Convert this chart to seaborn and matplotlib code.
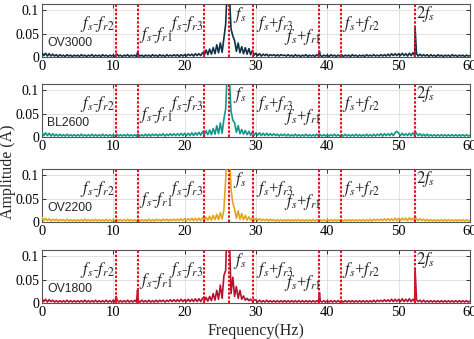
import numpy as np
import pandas as pd
import matplotlib
matplotlib.use("Agg")
import matplotlib.pyplot as plt
import seaborn as sns

# ---- characteristic frequencies (Hz) ----
fs = 26.15
fr1 = 12.75
fr2 = 15.75
fr3 = 3.45

marker_freqs = [fs - fr2, fs - fr1, fs - fr3, fs, fs + fr3, fs + fr1, fs + fr2, 2 * fs]

# ---- spectra: amplitude in mA on a 0.25 Hz grid from 0 to 60 Hz ----
freq_step = 0.25

ov3000 = [
    9, 3, 8, 2, 7, 2, 6, 2, 5, 1, 5, 2, 4, 1, 5, 2, 4, 1, 4, 2,
    4, 1, 5, 2, 4, 1, 4, 2, 5, 1, 4, 2, 4, 1, 5, 2, 4, 1, 4, 2,
    4, 1, 6, 2, 4, 1, 4, 2, 5, 1, 4, 2, 4, 1, 5, 2, 4, 1, 4, 2,
    4, 1, 5, 2, 4, 1, 5, 2, 4, 1, 5, 2, 4, 2, 5, 2, 5, 1, 5, 2,
    5, 2, 6, 3, 6, 2, 7, 3, 7, 3, 9, 4, 15, 5, 17, 6, 20, 7, 26, 9,
    30, 10, 40, 70, 160, 140, 60, 45, 35, 12, 30, 9, 22, 7, 20, 6, 18, 5, 14, 4,
    8, 3, 7, 2, 6, 3, 6, 2, 5, 3, 5, 2, 5, 2, 5, 3, 4, 2, 5, 2,
    4, 1, 5, 2, 4, 1, 4, 2, 5, 1, 4, 2, 4, 1, 5, 2, 4, 1, 4, 2,
    4, 1, 5, 2, 4, 1, 4, 2, 5, 1, 4, 2, 4, 1, 5, 2, 4, 1, 4, 2,
    4, 1, 5, 2, 4, 2, 5, 2, 4, 2, 5, 2, 5, 2, 6, 2, 7, 3, 7, 3,
    7, 3, 8, 3, 7, 2, 8, 3, 9, 3, 7, 2, 6, 2, 5, 2, 5, 1, 5, 2,
    4, 1, 5, 2, 4, 1, 4, 2, 4, 1, 5, 2, 4, 1, 4, 2, 4, 1, 4, 2,
    3,
]
bl2600 = [
    10, 3, 9, 3, 8, 2, 7, 2, 6, 2, 6, 2, 5, 2, 6, 2, 5, 2, 5, 2,
    5, 2, 6, 2, 5, 2, 5, 2, 6, 2, 5, 2, 5, 2, 6, 2, 5, 2, 5, 2,
    5, 2, 6, 2, 5, 2, 5, 2, 6, 2, 5, 2, 5, 2, 6, 2, 5, 2, 6, 2,
    6, 2, 6, 3, 6, 2, 6, 3, 7, 2, 6, 3, 7, 3, 7, 3, 7, 3, 8, 3,
    8, 3, 8, 3, 9, 3, 9, 4, 10, 4, 11, 4, 13, 5, 15, 5, 18, 6, 24, 7,
    30, 8, 38, 60, 150, 130, 55, 36, 30, 10, 24, 7, 16, 6, 14, 5, 12, 4, 11, 4,
    9, 4, 9, 3, 8, 3, 8, 3, 7, 3, 7, 3, 6, 2, 6, 3, 6, 2, 6, 2,
    5, 2, 6, 2, 5, 2, 5, 2, 6, 2, 5, 2, 5, 2, 6, 2, 5, 2, 5, 2,
    5, 2, 5, 2, 6, 2, 5, 2, 5, 2, 6, 2, 5, 2, 5, 2, 6, 2, 5, 2,
    5, 2, 6, 2, 5, 2, 6, 2, 6, 3, 7, 2, 7, 3, 7, 3, 8, 3, 9, 12,
    8, 3, 8, 3, 7, 3, 8, 3, 9, 3, 8, 3, 7, 2, 6, 2, 6, 2, 5, 2,
    5, 2, 5, 2, 5, 2, 5, 2, 5, 2, 5, 2, 5, 2, 5, 2, 5, 2, 5, 2,
    4,
]
ov2200 = [
    10, 3, 8, 3, 7, 2, 6, 3, 6, 2, 5, 3, 5, 2, 6, 2, 5, 2, 5, 2,
    5, 2, 5, 2, 6, 2, 5, 2, 5, 2, 6, 2, 5, 2, 5, 2, 6, 2, 5, 2,
    5, 2, 6, 2, 5, 2, 5, 2, 6, 2, 5, 2, 5, 2, 6, 2, 5, 2, 5, 2,
    6, 2, 5, 2, 6, 3, 5, 2, 6, 3, 6, 2, 6, 3, 6, 3, 6, 3, 7, 3,
    7, 3, 7, 3, 8, 3, 8, 3, 8, 3, 9, 3, 10, 4, 12, 4, 14, 5, 16, 5,
    20, 6, 26, 90, 200, 160, 70, 40, 28, 8, 24, 6, 18, 5, 14, 4, 11, 4, 9, 3,
    8, 3, 7, 3, 6, 3, 6, 2, 6, 3, 5, 2, 5, 2, 5, 2, 5, 2, 5, 2,
    5, 2, 5, 2, 5, 2, 5, 2, 5, 2, 5, 2, 5, 2, 5, 2, 5, 2, 5, 2,
    5, 2, 5, 2, 5, 2, 5, 2, 5, 2, 5, 2, 5, 2, 5, 2, 5, 2, 5, 2,
    5, 2, 5, 2, 6, 2, 6, 3, 6, 3, 6, 3, 7, 3, 7, 3, 7, 3, 8, 3,
    8, 3, 8, 4, 8, 3, 9, 4, 8, 3, 7, 3, 7, 3, 6, 2, 6, 2, 5, 2,
    5, 2, 5, 2, 5, 2, 5, 2, 5, 2, 5, 2, 5, 2, 5, 2, 5, 2, 5, 2,
    4,
]
ov1800 = [
    9, 3, 8, 2, 7, 3, 6, 2, 5, 2, 5, 2, 5, 2, 6, 2, 5, 2, 5, 2,
    5, 2, 5, 2, 6, 2, 5, 2, 5, 2, 6, 2, 5, 2, 5, 2, 6, 2, 5, 2,
    6, 2, 7, 2, 5, 2, 5, 2, 6, 2, 5, 2, 6, 2, 5, 2, 6, 2, 5, 2,
    6, 2, 5, 2, 6, 2, 6, 3, 6, 2, 6, 3, 7, 3, 7, 3, 7, 3, 8, 3,
    7, 3, 8, 3, 8, 3, 9, 3, 9, 3, 10, 4, 12, 4, 14, 5, 20, 6, 27, 8,
    38, 10, 58, 70, 200, 150, 20, 55, 14, 35, 10, 27, 8, 15, 6, 10, 5, 8, 4, 7,
    6, 2, 6, 2, 5, 2, 6, 2, 5, 2, 5, 2, 5, 2, 5, 2, 5, 2, 5, 2,
    5, 2, 5, 2, 5, 2, 5, 2, 5, 2, 5, 2, 5, 2, 5, 2, 5, 2, 5, 2,
    5, 2, 5, 2, 5, 2, 5, 2, 5, 2, 5, 2, 5, 2, 5, 2, 5, 2, 5, 2,
    5, 2, 5, 2, 5, 2, 6, 2, 6, 3, 6, 3, 7, 3, 7, 3, 8, 3, 8, 3,
    8, 3, 9, 3, 8, 3, 9, 3, 8, 3, 7, 3, 6, 2, 6, 2, 5, 2, 5, 2,
    5, 2, 5, 2, 5, 2, 5, 2, 5, 2, 5, 2, 5, 2, 5, 2, 5, 2, 5, 2,
    4,
]

# discrete spectral lines (Hz, mA) lying between grid points
ov3000_lines = [(10.4, 6), (13.4, 10), (22.7, 10), (26.15, 300), (38.9, 12), (52.3, 62)]
bl2600_lines = [(13.4, 6), (26.15, 300), (38.9, 6), (49.7, 12), (52.3, 12)]
ov2200_lines = [(22.7, 8), (26.15, 300), (52.3, 12)]
ov1800_lines = [(10.4, 14), (13.4, 28), (22.7, 12), (26.15, 300), (38.9, 22), (52.3, 72)]

conditions = ["OV3000", "BL2600", "OV2200", "OV1800"]
spectra = [ov3000, bl2600, ov2200, ov1800]
lines = [ov3000_lines, bl2600_lines, ov2200_lines, ov1800_lines]
colors = ["#0f3347", "#12988c", "#e3a51c", "#b5142f"]

x_ticks = [0, 10, 20, 30, 40, 50, 60]
y_ticks = [0, 0.05, 0.1]
y_ticklabels = ["0", "0.05", "0.1"]

# harmonic labels: (text, x, y, horizontal alignment)
harmonic_labels = [
    (r"$f_s$-$f_{r2}$", 10.2, 0.070, "right"),
    (r"$f_s$-$f_{r1}$", 13.6, 0.046, "left"),
    (r"$f_s$-$f_{r3}$", 22.6, 0.071, "right"),
    (r"$f_s$", 26.8, 0.090, "left"),
    (r"$f_s$+$f_{r3}$", 30.0, 0.071, "left"),
    (r"$f_s$+$f_{r1}$", 39.2, 0.043, "right"),
    (r"$f_s$+$f_{r2}$", 42.0, 0.071, "left"),
    (r"$2f_s$", 52.5, 0.091, "left"),
]

sns.set_style("ticks")
plt.rcParams["font.family"] = ["Liberation Serif", "DejaVu Serif"]
plt.rcParams["mathtext.fontset"] = "stix"

fig = plt.figure(figsize=(4.74, 3.39), dpi=100)
W, H = 474.0, 339.0
panel_px = [(4, 57), (84, 137), (169, 222), (250, 303)]
left_px, right_px = 42, 470

for k, (name, amp, extra, col) in enumerate(zip(conditions, spectra, lines, colors)):
    top, bot = panel_px[k]
    ax = fig.add_axes([left_px / W, 1 - bot / H, (right_px - left_px) / W, (bot - top) / H])

    f = list(np.arange(len(amp)) * freq_step)
    a = list(amp)
    for fl, al in extra:
        f.append(fl)
        a.append(al)
    df = pd.DataFrame({"Frequency": f, "Amplitude": np.array(a) / 1000.0})
    df = df.sort_values("Frequency")

    sns.lineplot(data=df, x="Frequency", y="Amplitude", color=col, lw=1.2,
                 estimator=None, sort=True, ax=ax, zorder=3)

    for mf in marker_freqs:
        ax.axvline(mf, color="#e8121c", lw=1.5, ls=(0, (1.2, 0.8)), zorder=4)

    ax.set_xlim(0, 60)
    ax.set_ylim(0, 0.113)
    ax.set_xticks(x_ticks)
    ax.set_yticks(y_ticks)
    ax.set_yticklabels(y_ticklabels)
    ax.set_xlabel("")
    ax.set_ylabel("")
    ax.grid(True, color="#dddddd", lw=0.6, zorder=0)
    ax.tick_params(direction="in", length=3, width=0.7, top=True, right=True,
                   colors="#333333", labelcolor="black", pad=2)
    for lab in ax.get_xticklabels():
        lab.set_fontsize(10.5)
    for lab in ax.get_yticklabels():
        lab.set_fontsize(10)
    for sp in ax.spines.values():
        sp.set_color("#555555")
        sp.set_linewidth(0.8)

    for txt, tx, ty, ha in harmonic_labels:
        ax.text(tx, ty, txt, ha=ha, va="center", fontsize=12, zorder=5)

    ax.text(0.7, 0.029, name, family="Liberation Sans", fontsize=8.8,
            ha="left", va="center", zorder=5)

fig.text(256 / W, 1 - 331 / H, "Frequency(Hz)", ha="center", va="center", fontsize=11.5)
fig.text(8 / W, 1 - 172 / H, "Amplitude (A)", ha="center", va="center",
         rotation=90, fontsize=11.5)

fig.savefig("out.png", dpi=100)
